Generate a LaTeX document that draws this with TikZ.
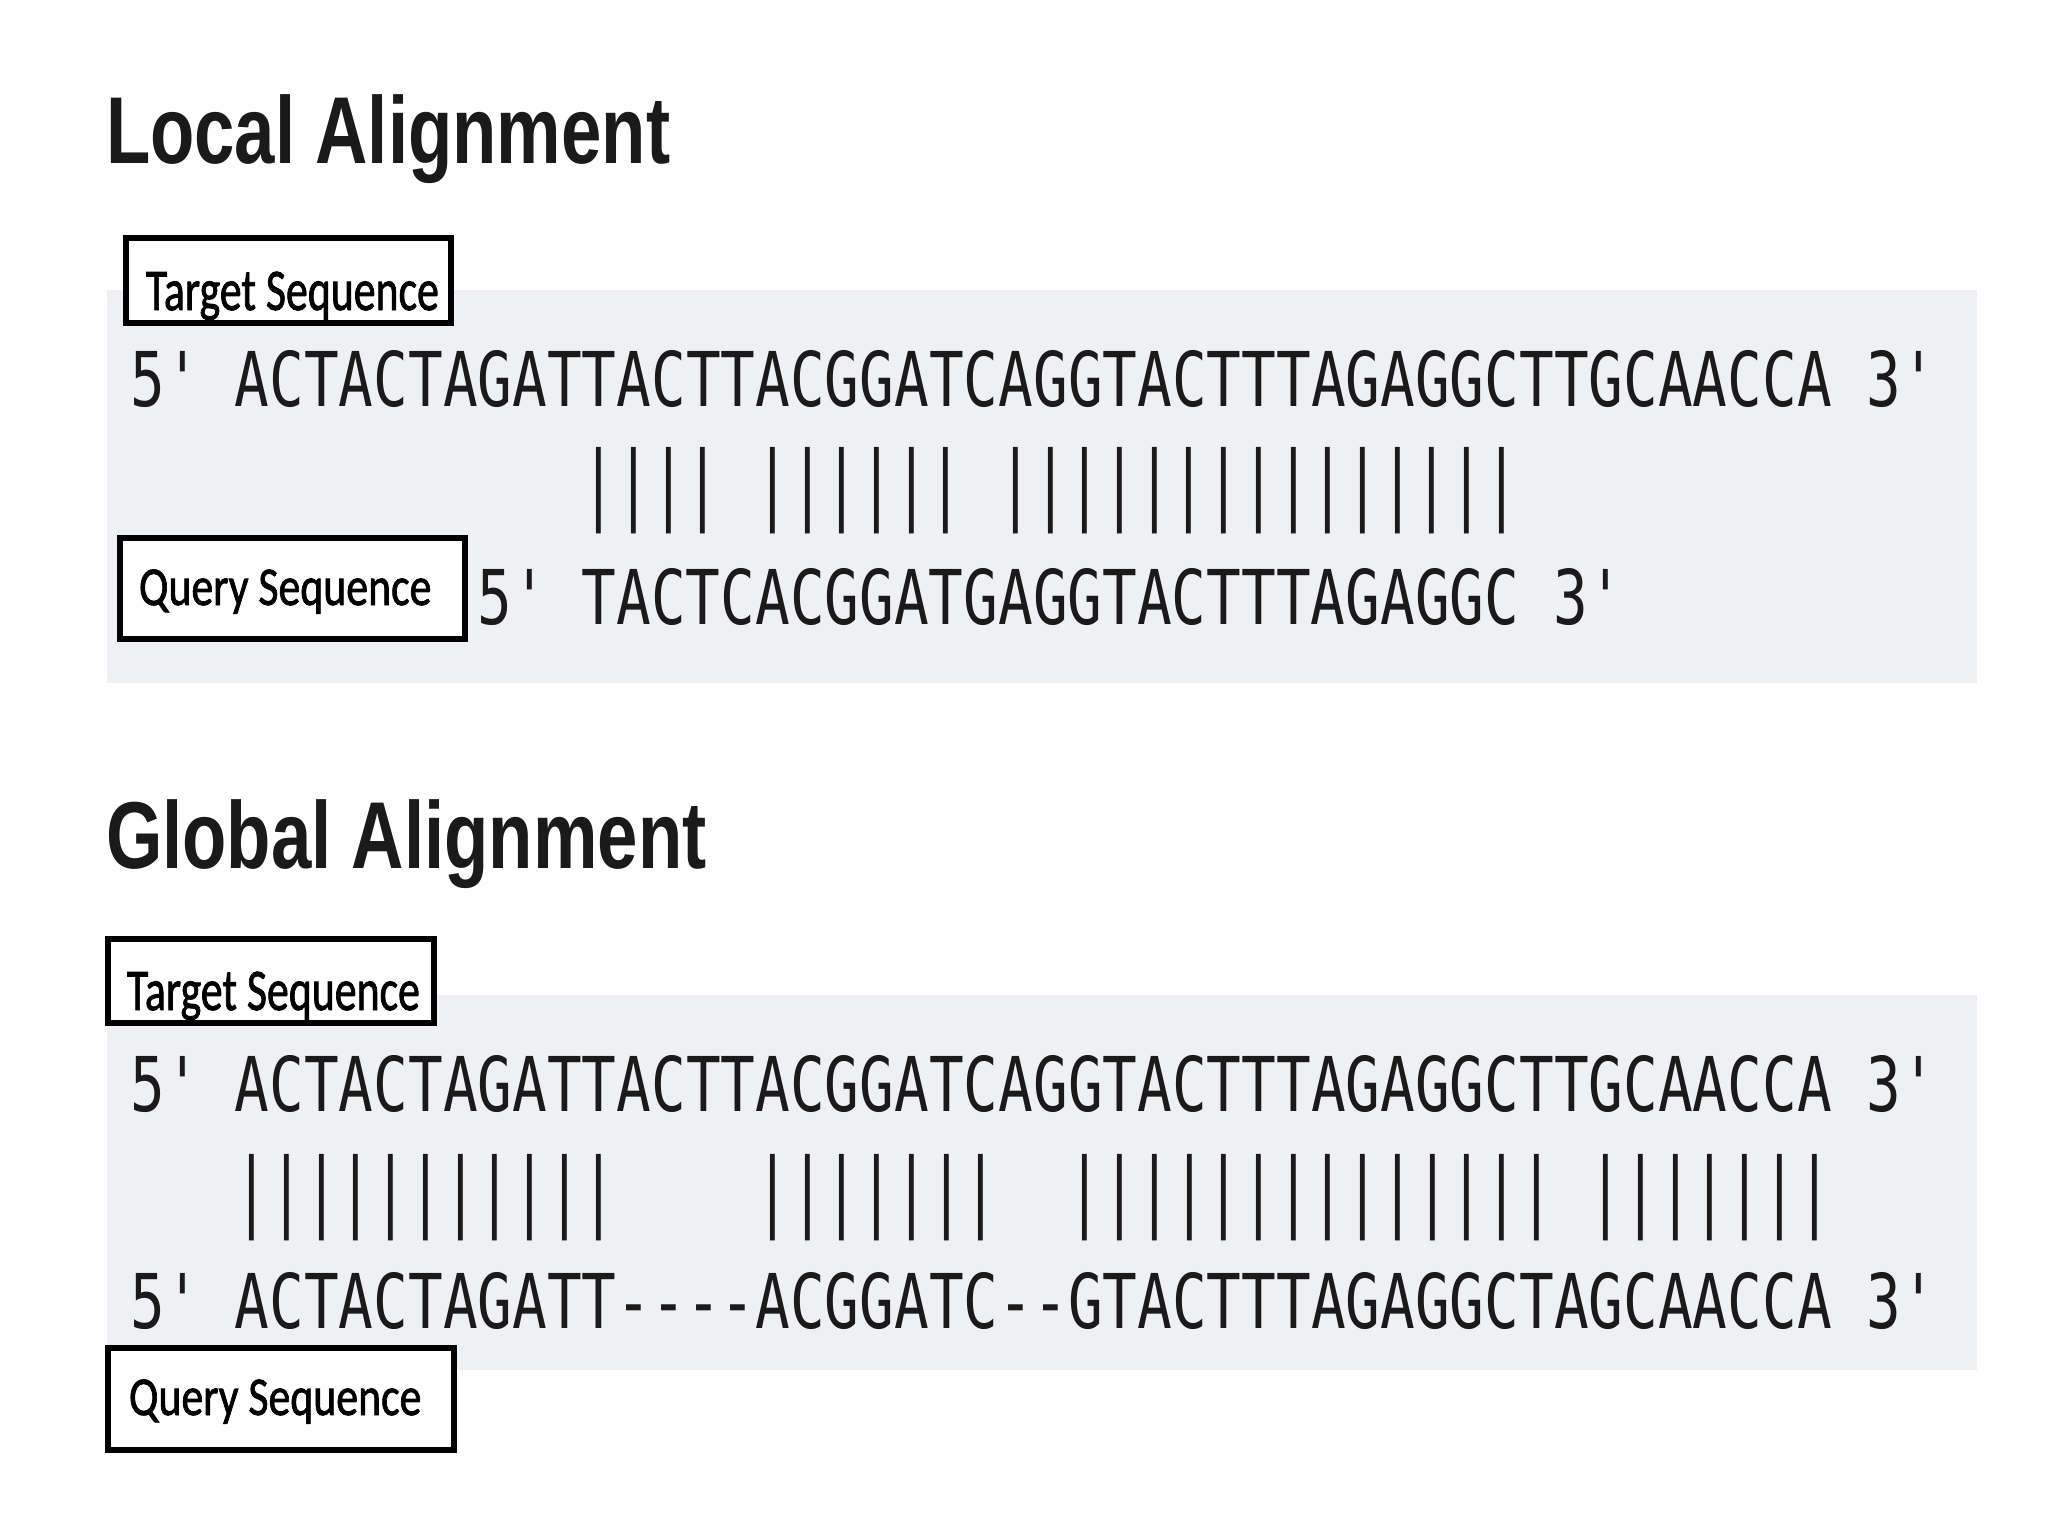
\documentclass[tikz,border=0pt]{standalone}
\usepackage{fontspec}
\usepackage{graphicx}
\newfontfamily\seqfont{DejaVu Sans Mono}[Ligatures=ResetAll]
\newfontfamily\titlefont{Liberation Sans}[Ligatures=ResetAll]
\newfontfamily\labfont{Carlito}[UprightFeatures={FakeBold=1.5}]
\definecolor{panelgray}{HTML}{EEF0F3}
\definecolor{ink}{HTML}{1A1A1A}
\newcommand{\vstretch}[2]{\scalebox{1}[#1]{#2}}
\tikzset{
  panelbox/.style={rectangle, fill=panelgray, draw=none, inner sep=0pt, outer sep=0pt},
  labbox/.style={rectangle, fill=white, draw=black, line width=1.7pt, inner sep=0pt, outer sep=0pt},
  seqrow/.style={anchor=base west, inner sep=0pt, outer sep=0pt, text=ink,
                 font=\seqfont\fontsize{16.4pt}{16.4pt}\selectfont},
  titletext/.style={anchor=base west, inner sep=0pt, outer sep=0pt, text=ink,
                 font=\titlefont\bfseries\fontsize{20.63pt}{21pt}\selectfont},
  labtext/.style={anchor=base west, inner sep=0pt, outer sep=0pt, text=black,
                 font=\labfont\fontsize{12.45pt}{13pt}\selectfont},
}
\begin{document}
\begin{tikzpicture}[x=0.01cm, y=-0.01cm]
\useasboundingbox[fill=white] (0,0) rectangle (2048,1536);

% panels
\node[panelbox, minimum width=18.68cm, minimum height=3.93cm] (lpanel) at (1042,486.5) {};
\node[panelbox, minimum width=18.68cm, minimum height=3.75cm] (gpanel) at (1042,1182.5) {};

% titles
\node[titletext] (ltitle) at (106,163) {\vstretch{1.31}{Local Alignment}};
\node[titletext] (gtitle) at (106,868) {\vstretch{1.31}{Global Alignment}};

% label boxes
\node[labbox, minimum width=3.25cm, minimum height=0.85cm] (ltbox) at (288.5,280.5) {};
\node[labbox, minimum width=3.45cm, minimum height=1.01cm] (lqbox) at (292.5,588.5) {};
\node[labbox, minimum width=3.26cm, minimum height=0.84cm] (gtbox) at (271,981) {};
\node[labbox, minimum width=3.46cm, minimum height=1.02cm] (gqbox) at (281,1399) {};

\node[labtext] (ltlab) at (146,310) {\vstretch{1.35}{Target Sequence}};
\node[labtext] (lqlab) at (139,605) {\vstretch{1.25}{Query Sequence}};
\node[labtext] (gtlab) at (127,1010) {\vstretch{1.35}{Target Sequence}};
\node[labtext] (gqlab) at (129,1415) {\vstretch{1.25}{Query Sequence}};

% local alignment rows
\node[seqrow] (ltseq) at (130.6,406) {\vstretch{1.31}{5'~ACTACTAGATTACTTACGGATCAGGTACTTTAGAGGCTTGCAACCA~3'}};
\node[seqrow] (lbars) at (581.7,513) {\vstretch{1.5}{||||~||||||~|||||||||||||||}};
\node[seqrow] (lqseq) at (477.6,624) {\vstretch{1.31}{5'~TACTCACGGATGAGGTACTTTAGAGGC~3'}};

% global alignment rows
\node[seqrow] (gtseq) at (130.6,1111) {\vstretch{1.31}{5'~ACTACTAGATTACTTACGGATCAGGTACTTTAGAGGCTTGCAACCA~3'}};
\node[seqrow] (gbars) at (234.7,1220) {\vstretch{1.5}{|||||||||||~~~~|||||||~~||||||||||||||~|||||||}};
\node[seqrow] (gqseq) at (130.6,1328) {\vstretch{1.31}{5'~ACTACTAGATT----ACGGATC--GTACTTTAGAGGCTAGCAACCA~3'}};
\end{tikzpicture}
\end{document}
